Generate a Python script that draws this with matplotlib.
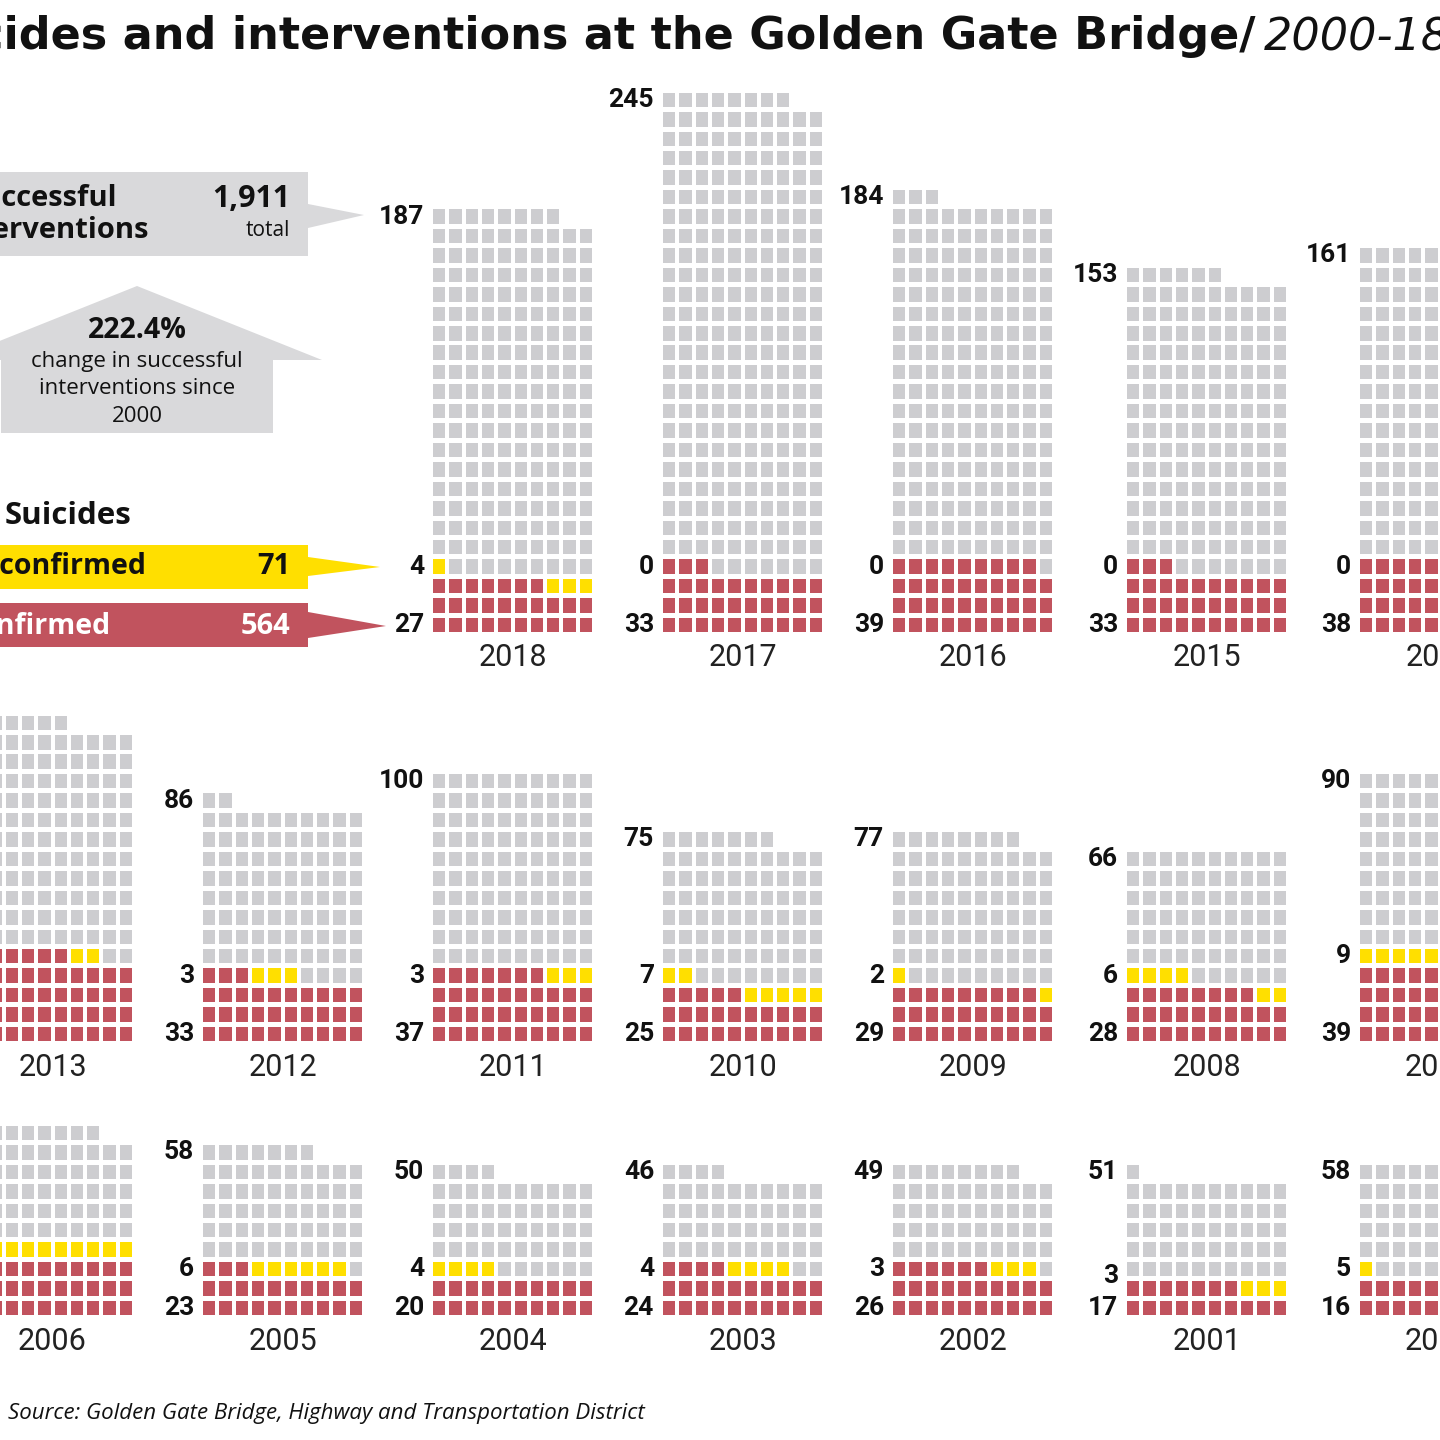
import matplotlib
matplotlib.use('Agg')
import matplotlib.pyplot as plt
from matplotlib.patches import Rectangle, Polygon
from matplotlib.collections import PatchCollection

# data (2000-2018)
years = [2018, 2017, 2016, 2015, 2014,
         2013, 2012, 2011, 2010, 2009, 2008, 2007,
         2006, 2005, 2004, 2003, 2002, 2001, 2000]
confirmed = [27, 33, 39, 33, 38,
             46, 33, 37, 25, 29, 28, 39,
             31, 23, 20, 24, 26, 17, 16]
unconfirmed = [4, 0, 0, 0, 0,
               2, 3, 3, 7, 2, 6, 9,
               10, 6, 4, 4, 3, 3, 5]
interventions = [187, 245, 184, 153, 161,
                 118, 86, 100, 75, 77, 66, 90,
                 57, 58, 50, 46, 49, 51, 58]

total_interventions = '1,911'
total_unconfirmed = '71'
total_confirmed = '564'
change_since_2000 = '222.4%'

RED = '#c1535e'
YELLOW = '#ffdf00'
GRAY = '#cdcdd0'
BOX_GRAY = '#d9d9db'
INK = '#111111'

NUM_FONT = ['Roboto', 'DejaVu Sans']
TXT_FONT = ['Open Sans', 'DejaVu Sans']
TITLE_FONT = ['DejaVu Sans']

fig = plt.figure(figsize=(14.4, 14.4), dpi=100)
ax = fig.add_axes([0, 0, 1, 1])
ax.set_xlim(0, 1440)
ax.set_ylim(1440, 0)
ax.axis('off')

# waffle geometry (pixels)
sq_w, sq_h = 12.3, 14.5
pitch_x, pitch_y = 16.3, 19.45
ncols = 10
col_x = {-2: -27, -1: 203, 0: 433, 1: 663, 2: 893, 3: 1127, 4: 1360}


def panel_slot(i):
    # first row of panels starts at grid column 0, the other two at -2
    if i < 5:
        return i, 625
    elif i < 12:
        return i - 7, 1034
    return i - 14, 1308


rects = {RED: [], YELLOW: [], GRAY: []}
for i, yr in enumerate(years):
    col, y_bottom = panel_slot(i)
    x0 = col_x[col]
    kinds = [RED] * confirmed[i] + [YELLOW] * unconfirmed[i] + [GRAY] * interventions[i]
    for k, color in enumerate(kinds):
        r, c = divmod(k, ncols)
        x = x0 + c * pitch_x
        yc = y_bottom - r * pitch_y
        rects[color].append(Rectangle((x, yc - sq_h / 2), sq_w, sq_h))

    # labels
    lx = x0 - 9
    top_row = (len(kinds) - 1) // ncols
    ax.text(lx, y_bottom - top_row * pitch_y, str(interventions[i]), ha='right', va='center',
            fontsize=19, fontweight='bold', family=NUM_FONT, color=INK)
    mid_row = max((confirmed[i] + unconfirmed[i] - 1) // ncols, 1.65)
    ax.text(lx, y_bottom - mid_row * pitch_y, str(unconfirmed[i]), ha='right', va='center',
            fontsize=19, fontweight='bold', family=NUM_FONT, color=INK)
    ax.text(lx, y_bottom, str(confirmed[i]), ha='right', va='center',
            fontsize=19, fontweight='bold', family=NUM_FONT, color=INK)
    ax.text(x0 + (ncols - 1) * pitch_x / 2 + sq_w / 2, y_bottom + 33, str(yr), ha='center',
            va='center', fontsize=22, family=NUM_FONT, color='#222222')

for color, lst in rects.items():
    ax.add_collection(PatchCollection(lst, facecolor=color, edgecolor='none'))

# title (cropped on both sides like the original)
ax.text(1255, 36, 'Suicides and interventions at the Golden Gate Bridge/', ha='right',
        va='center', fontsize=32, fontweight='bold', family=TITLE_FONT, color=INK)
ax.text(1264, 38, '2000-18', ha='left', va='center', fontsize=32, fontstyle='italic',
        family=TITLE_FONT, color=INK)

# interventions box
ax.add_patch(Polygon([(-5, 172), (308, 172), (308, 204), (364, 215), (308, 228),
                      (308, 256), (-5, 256)], closed=True, facecolor=BOX_GRAY, edgecolor='none'))
ax.text(117, 198, 'Successful', ha='right', va='center', fontsize=21, fontweight='bold',
        family=TXT_FONT, color=INK)
ax.text(149, 231, 'interventions', ha='right', va='center', fontsize=21, fontweight='bold',
        family=TXT_FONT, color=INK)
ax.text(290, 199, total_interventions, ha='right', va='center', fontsize=22, fontweight='bold',
        family=TXT_FONT, color=INK)
ax.text(290, 230, 'total', ha='right', va='center', fontsize=15, family=TXT_FONT, color=INK)

# change arrow
ax.add_patch(Polygon([(137, 286), (322, 360), (273, 360), (273, 433), (1, 433), (1, 360),
                      (-48, 360)], closed=True, facecolor=BOX_GRAY, edgecolor='none'))
ax.text(137, 331, change_since_2000, ha='center', va='center', fontsize=20.5, fontweight='bold',
        family=TXT_FONT, color=INK)
ax.text(137, 362, 'change in successful', ha='center', va='center', fontsize=16,
        family=TXT_FONT, color=INK)
ax.text(137, 389, 'interventions since', ha='center', va='center', fontsize=16,
        family=TXT_FONT, color=INK)
ax.text(137, 416, '2000', ha='center', va='center', fontsize=16, family=TXT_FONT, color=INK)

# suicides legend
ax.text(131, 516, 'Suicides', ha='right', va='center', fontsize=22.5, fontweight='bold',
        family=TXT_FONT, color=INK)
ax.add_patch(Polygon([(-5, 545), (308, 545), (308, 557), (380, 567), (308, 576), (308, 589),
                      (-5, 589)], closed=True, facecolor=YELLOW, edgecolor='none'))
ax.text(146, 567, 'Unconfirmed', ha='right', va='center', fontsize=20.5, fontweight='bold',
        family=TXT_FONT, color=INK)
ax.text(290, 567, total_unconfirmed, ha='right', va='center', fontsize=21, fontweight='bold',
        family=TXT_FONT, color=INK)
ax.add_patch(Polygon([(-5, 603), (308, 603), (308, 612), (386, 626), (308, 638), (308, 647),
                      (-5, 647)], closed=True, facecolor=RED, edgecolor='none'))
ax.text(110, 626, 'Confirmed', ha='right', va='center', fontsize=20.5, fontweight='bold',
        family=TXT_FONT, color='white')
ax.text(290, 626, total_confirmed, ha='right', va='center', fontsize=21, fontweight='bold',
        family=TXT_FONT, color='white')

# source
ax.text(645, 1413, 'Source: Golden Gate Bridge, Highway and Transportation District', ha='right',
        va='center', fontsize=16, fontstyle='italic', family=TXT_FONT, color=INK)

fig.savefig('out.png', dpi=100, facecolor='white')
